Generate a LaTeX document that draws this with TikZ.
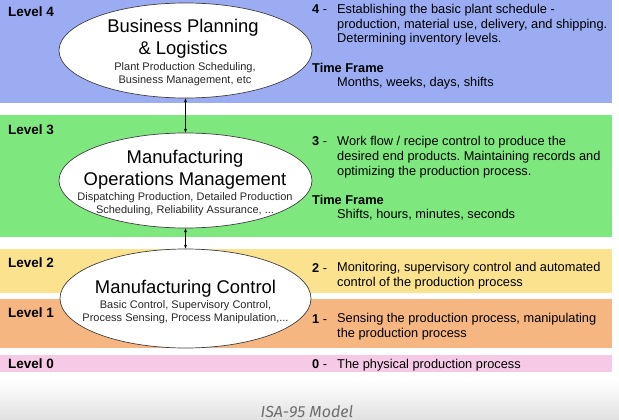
\documentclass[tikz,border=0pt]{standalone}
\usepackage{fontspec}
\setmainfont{Liberation Sans}
\newfontfamily\capfont{Fira Sans}
\usetikzlibrary{shapes.geometric,arrows.meta}
\frenchspacing
\definecolor{lvfour}{RGB}{155,172,242}
\definecolor{lvthree}{RGB}{126,232,126}
\definecolor{lvtwo}{RGB}{250,226,142}
\definecolor{lvone}{RGB}{245,182,130}
\definecolor{lvzero}{RGB}{246,202,230}
\definecolor{subgray}{RGB}{40,40,40}
\definecolor{capgray}{RGB}{110,110,110}
\tikzset{
  band/.style={draw=none},
  lvl/.style={anchor=base west,inner sep=0pt,font=\fontsize{13.5}{15}\selectfont\bfseries},
  num/.style={anchor=base west,inner sep=0pt,font=\fontsize{12.8}{14.5}\selectfont},
  desc/.style={anchor=base west,inner sep=0pt,align=left,font=\fontsize{12.8}{14.5}\selectfont},
  tf/.style={anchor=base west,inner sep=0pt,font=\fontsize{12.8}{14.5}\selectfont\bfseries},
  oval/.style={ellipse,draw=black!75,line width=0.7pt,fill=white,inner sep=0pt},
  ttl/.style={anchor=base,inner sep=0pt,align=center,font=\fontsize{18.4}{22}\selectfont},
  sub/.style={anchor=base,inner sep=0pt,align=center,text=subgray,font=\fontsize{11}{13}\selectfont},
  link/.style={{Stealth[length=4pt,width=3pt]}-{Stealth[length=4pt,width=3pt]},line width=0.6pt}
}
\begin{document}
\begin{tikzpicture}[x=1pt,y=-1pt]
\useasboundingbox (0,0) rectangle (619,420);
% bottom gradient
\shade[top color=white,bottom color=black!12] (0,380) rectangle (619,420);
% bands
\fill[band,lvfour] (0,0) rectangle (612,103);
\fill[band,lvthree] (0,115) rectangle (612,237);
\fill[band,lvtwo] (0,249) rectangle (612,293);
\fill[band,lvone] (0,299) rectangle (612,348);
\fill[band,lvzero] (0,355) rectangle (612,372);
% level labels
\node[lvl] (l4) at (8,17) {Level 4};
\node[lvl] (l3) at (8,134) {Level 3};
\node[lvl] (l2) at (8,267) {Level 2};
\node[lvl] (l1) at (8,317) {Level 1};
\node[lvl] (l0) at (8,368) {Level 0};
% ellipses
\node[oval,minimum width=253,minimum height=95] (e4) at (185.5,50.5) {};
\node[oval,minimum width=253,minimum height=95] (e3) at (185.5,180.5) {};
\node[oval,minimum width=251,minimum height=99] (e2) at (185.5,298.5) {};
\draw[link] (e4.south) -- (e3.north);
\draw[link] (e3.south) -- (e2.north);
% ellipse texts
\node[ttl] (t4a) at (183,33) {Business Planning};
\node[ttl] (t4b) at (183,55) {\& Logistics};
\node[sub] (s4a) at (185,71) {Plant Production Scheduling,};
\node[sub] (s4b) at (185,84) {Business Management, etc};
\node[ttl] (t3a) at (185,163) {Manufacturing};
\node[ttl] (t3b) at (185,185) {Operations Management};
\node[sub] (s3a) at (185,200) {Dispatching Production, Detailed Production};
\node[sub] (s3b) at (185,213) {Scheduling, Reliability Assurance, ...};
\node[ttl] (t2a) at (185.5,293) {Manufacturing Control};
\node[sub] (s2a) at (185.5,308) {Basic Control, Supervisory Control,};
\node[sub] (s2b) at (185.5,321) {Process Sensing, Process Manipulation,...};
% right descriptions (base = last line's baseline)
\node[num] (n4) at (312,14) {\textbf{4} -};
\node[desc] (d4) at (337,43) {Establishing the basic plant schedule -\\production, material use, delivery, and shipping.\\Determining inventory levels.};
\node[tf] (tf4) at (312,73) {Time Frame};
\node[desc] (f4) at (337,87) {Months, weeks, days, shifts};
\node[num] (n3) at (312,146) {\textbf{3} -};
\node[desc] (d3) at (337,175) {Work flow / recipe control to produce the\\desired end products. Maintaining records and\\optimizing the production process.};
\node[tf] (tf3) at (312,204) {Time Frame};
\node[desc] (f3) at (337,218) {Shifts, hours, minutes, seconds};
\node[num] (n2) at (312,272) {\textbf{2} -};
\node[desc] (d2) at (337,286) {Monitoring, supervisory control and automated\\control of the production process};
\node[num] (n1) at (312,323) {\textbf{1} -};
\node[desc] (d1) at (337,337) {Sensing the production process, manipulating\\the production process};
\node[num] (n0) at (312,368) {\textbf{0} -};
\node[desc] (d0) at (337,368) {The physical production process};
% caption
\node[anchor=base,inner sep=0pt,text=capgray,font=\capfont\itshape\fontsize{16}{18}\selectfont] (cap) at (307,417) {ISA-95 Model};
\end{tikzpicture}
\end{document}
